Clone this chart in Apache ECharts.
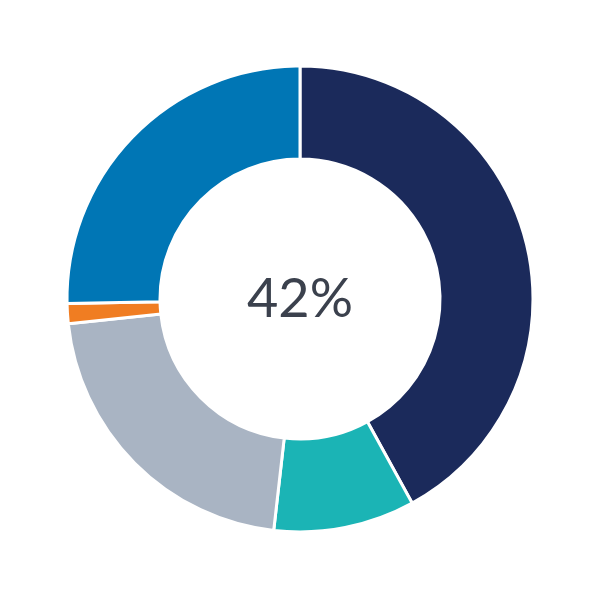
<!DOCTYPE html>
<html><head><meta charset="utf-8">
<script src="https://cdn.jsdelivr.net/npm/echarts@6/dist/echarts.min.js"></script>
<style>html,body{margin:0;padding:0;background:#fff}#c{width:600px;height:600px}</style>
</head><body><div id="c"></div>
<script>
const categories = ['A', 'B', 'C', 'D', 'E'];
const values = [42, 9.8, 21.5, 1.4, 25.3];
const colors = ['#1b2a5b', '#1bb4b5', '#a9b4c3', '#f07d22', '#0076b5'];
const centerLabel = '42%';

const chart = echarts.init(document.getElementById('c'));
chart.setOption({
  animation: false,
  title: {
    text: centerLabel, left: 'center', top: 'middle',
    textStyle: { fontFamily: 'Lato', fontSize: 54, fontWeight: 'normal', color: '#3b414d' }
  },
  series: [{
    type: 'pie',
    center: [300, 299],
    radius: [140, 233],
    startAngle: 90,
    clockwise: true,
    label: { show: false },
    labelLine: { show: false },
    itemStyle: { borderColor: '#fff', borderWidth: 3 },
    data: categories.map((c, i) => ({ name: c, value: values[i], itemStyle: { color: colors[i] } }))
  }]
});
</script></body></html>
